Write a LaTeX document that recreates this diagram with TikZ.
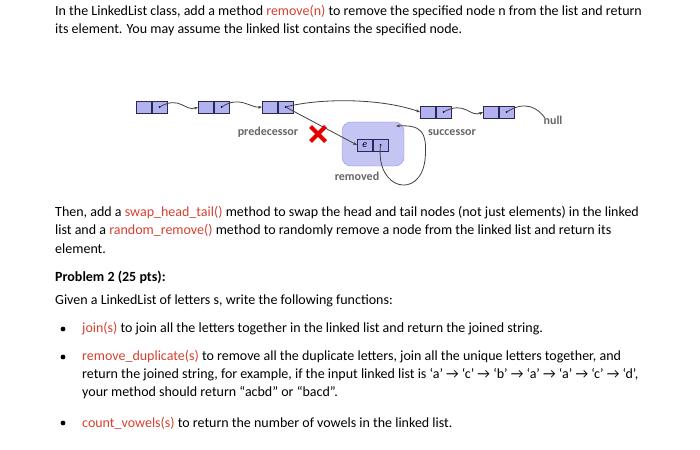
\documentclass[tikz,border=0pt]{standalone}
\usepackage{fontspec}
\setmainfont{Carlito}
\usetikzlibrary{arrows.meta,shapes.misc}
\definecolor{redt}{RGB}{214,64,48}
\definecolor{cellf}{RGB}{178,178,240}
\definecolor{cello}{RGB}{40,40,80}
\begin{document}
\begin{tikzpicture}[x=1pt,y=-1pt,
  txt/.style={anchor=west,inner sep=0pt,font=\fontsize{14}{16}\selectfont},
  cell/.style={draw=cello,fill=cellf,line width=0.7pt,minimum width=15pt,minimum height=12pt,inner sep=0pt},
  ptr/.style={draw=black!75,line width=0.8pt,-{Stealth[length=4pt,width=3pt]}},
  lbl/.style={font=\fontsize{12}{13}\selectfont\bfseries,text=black!60,inner sep=0pt}]
\useasboundingbox (0,0) rectangle (700,449);
% text
\node[txt] (t1) at (55,12) {In the LinkedList class, add a method \textcolor{redt}{remove(n)} to remove the specified node n from the list and return};
\node[txt] (t2) at (55,30) {its element. You may assume the linked list contains the specified node.};
% removed bubble
\node[draw=cellf!80!blue,fill=cellf!75,rounded corners=9pt,minimum width=62pt,minimum height=44pt] (bub) at (373,144) {};
% list nodes
\foreach \n/\x/\y in {a/136/107,b/198/107,c/262/107,d/420/112,f/483/112}{
  \node[cell,anchor=west] (\n L) at (\x,\y) {};
  \node[cell,anchor=west] (\n R) at (\n L.east) {};
  \fill (\n R.center) circle (1pt);
}
\node[cell,anchor=west] (eL) at (357,145) {\itshape e};
\node[cell,anchor=west] (eR) at (eL.east) {};
\fill (eR.center) circle (1pt);
\node[lbl] (null) at (553,120) {null};
\node[lbl] (pred) at (268,132) {predecessor};
\node[lbl] (succ) at (452,133) {successor};
\node[lbl] (rem) at (357,176) {removed};
\draw[ptr] (aR.center) .. controls (180,95) and (185,112) .. (bL.west);
\draw[ptr] (bR.center) .. controls (240,95) and (250,108) .. (cL.west);
\draw[ptr] (cR.center) .. controls (320,98) and (380,98) .. (dL.west);
\draw[ptr] (dR.center) .. controls (465,100) and (470,118) .. (fL.west);
\draw[draw=black!75,line width=0.8pt] (fR.center) .. controls (525,100) and (538,108) .. (545,118);
\draw[ptr] (cR.center) -- (eL.west);
\node[cross out,draw=red!90!black,line width=4pt,minimum size=11pt,inner sep=0pt] (x) at (318,134) {};
\draw[ptr] (eR.center) .. controls (375,190) and (420,200) .. (425,160) .. controls (428,130) and (420,125) .. (396,126);
\node[txt] (t3) at (55,213) {Then, add a \textcolor{redt}{swap\_head\_tail()} method to swap the head and tail nodes (not just elements) in the linked};
\node[txt] (t4) at (55,231) {list and a \textcolor{redt}{random\_remove()} method to randomly remove a node from the linked list and return its};
\node[txt] (t5) at (55,249) {element.};
\node[txt] (t6) at (55,277) {\bfseries Problem 2 (25 pts):};
\node[txt] (t7) at (55,301) {Given a LinkedList of letters s, write the following functions:};
\foreach \y in {329,357,423}{\fill (63,\y) circle (2.4pt);}
\node[txt] (b1) at (82,329) {\textcolor{redt}{join(s)} to join all the letters together in the linked list and return the joined string.};
\node[txt] (b2) at (82,357) {\textcolor{redt}{remove\_duplicate(s)} to remove all the duplicate letters, join all the unique letters together, and};
\node[txt] (b3) at (82,375) {return the joined string, for example, if the input linked list is ‘a’ → ‘c’ → ‘b’ → ‘a’ → ‘a’ → ‘c’ → ‘d’,};
\node[txt] (b4) at (82,393) {your method should return “acbd” or “bacd”.};
\node[txt] (b5) at (82,423) {\textcolor{redt}{count\_vowels(s)} to return the number of vowels in the linked list.};
\end{tikzpicture}
\end{document}
